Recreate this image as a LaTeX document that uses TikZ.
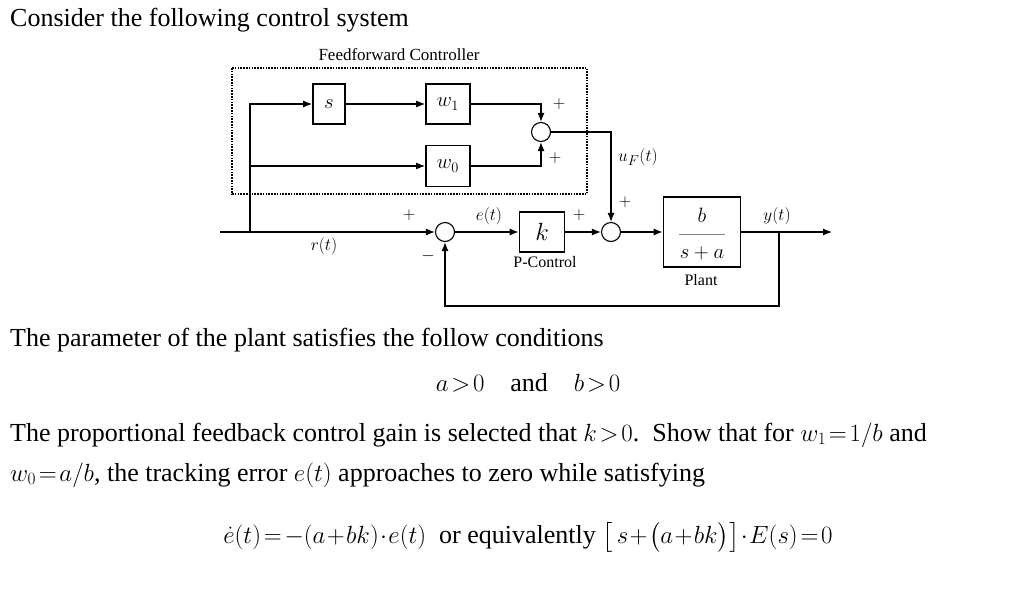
\documentclass[tikz,border=0pt]{standalone}
\usepackage{fontspec}
\setmainfont{Liberation Serif}
\usepackage{amsmath}
\usetikzlibrary{arrows.meta}
\begin{document}
\begin{tikzpicture}[x=1pt,y=-1pt,>={Latex[length=9pt,width=7pt]},
  blk/.style={draw,line width=1.6pt,minimum width=0pt,inner sep=0pt},
  sumc/.style={draw,circle,line width=1.1pt,minimum size=19pt,inner sep=0pt},
  ln/.style={line width=1.2pt},
  txt/.style={anchor=west,inner sep=0pt,font=\fontsize{26}{30}\selectfont},
  sm/.style={font=\fontsize{19}{21}\selectfont,inner sep=0pt}]
\useasboundingbox (0,0) rectangle (1024,603);
\node[txt] (t0) at (10,20) {Consider the following control system};
\node[sm,font=\fontsize{17}{19}\selectfont] (ffl) at (399,55) {Feedforward Controller};
\draw[line width=1.6pt,dash pattern=on 1.6pt off 1.2pt] (232,68) rectangle (587,194);
\node[blk,minimum width=32pt,minimum height=40pt] (s) at (329,104) {\fontsize{21}{23}\selectfont$s$};
\node[blk,minimum width=44pt,minimum height=40pt] (w1) at (448,104) {\fontsize{21}{23}\selectfont$w_1$};
\node[blk,minimum width=44pt,minimum height=41pt] (w0) at (448,166) {\fontsize{21}{23}\selectfont$w_0$};
\node[sumc] (s1) at (541,132) {};
\node[sumc] (s2) at (445,232) {};
\node[blk,minimum width=45pt,minimum height=40pt] (k) at (542,232) {\fontsize{23}{25}\selectfont$k$};
\node[sumc] (s3) at (611,232) {};
\node[blk,minimum width=77pt,minimum height=70pt] (p) at (702,232) {};
\node (pb) at (702,215) {\fontsize{22}{24}\selectfont$b$};
\node (pd) at (702,253) {\fontsize{22}{24}\selectfont$s+a$};
\draw[line width=0.9pt,gray] (679,234) -- (725,234);
\coordinate (in) at (220,232);
\coordinate (br) at (250,232);
\coordinate (yb) at (779,232);
\coordinate (out) at (832,232);
\draw[ln] (in) -- (br);
\draw[ln,->] (br) -- (s2.west);
\draw[ln,->] (br) |- (s.west);
\draw[ln,->] (250,166) -- (w0.west);
\draw[ln,->] (s.east) -- (w1.west);
\draw[ln,->] (w1.east) -| (s1.north);
\draw[ln,->] (w0.east) -| (s1.south);
\draw[ln,->] (s1.east) -| (s3.north);
\draw[ln,->] (s2.east) -- (k.west);
\draw[ln,->] (k.east) -- (s3.west);
\draw[ln,->] (s3.east) -- (p.west);
\draw[ln,->] (p.east) -- (out);
\draw[ln,->] (yb) -- (779,306) -| (s2.south);
\node[sm] at (559,104) {$+$};
\node[sm] at (555,158) {$+$};
\node[sm] at (409,215) {$+$};
\node[sm] at (428,256) {$-$};
\node[sm] at (579,215) {$+$};
\node[sm] at (625,202) {$+$};
\node[sm] at (489,216) {$e(t)$};
\node[sm] at (638,157) {$u_F(t)$};
\node[sm] at (324,246) {$r(t)$};
\node[sm] at (777,216) {$y(t)$};
\node[sm,font=\fontsize{16}{18}\selectfont] at (545,262) {P-Control};
\node[sm,font=\fontsize{16}{18}\selectfont] at (701,280) {Plant};
\node[txt] at (10,340) {The parameter of the plant satisfies the follow conditions};
\node[inner sep=0pt,font=\fontsize{26}{30}\selectfont] at (528,383) {$a\!>\!0$\quad and\quad $b\!>\!0$};
\node[txt] at (10,435) {The proportional feedback control gain is selected that $k\!>\!0$.\ \ Show that for $w_1\!=\!1/b$ and};
\node[txt] at (10,475) {$w_0\!=\!a/b$, the tracking error $e(t)$ approaches to zero while satisfying};
\node[inner sep=0pt,font=\fontsize{26}{30}\selectfont] at (528,537) {$\dot e(t)\!=\!-(a\!+\!bk)\!\cdot\! e(t)$\ \ or equivalently $\bigl[\,s\!+\!\bigl(a\!+\!bk\bigr)\bigr]\!\cdot\! E(s)\!=\!0$};
\end{tikzpicture}
\end{document}
